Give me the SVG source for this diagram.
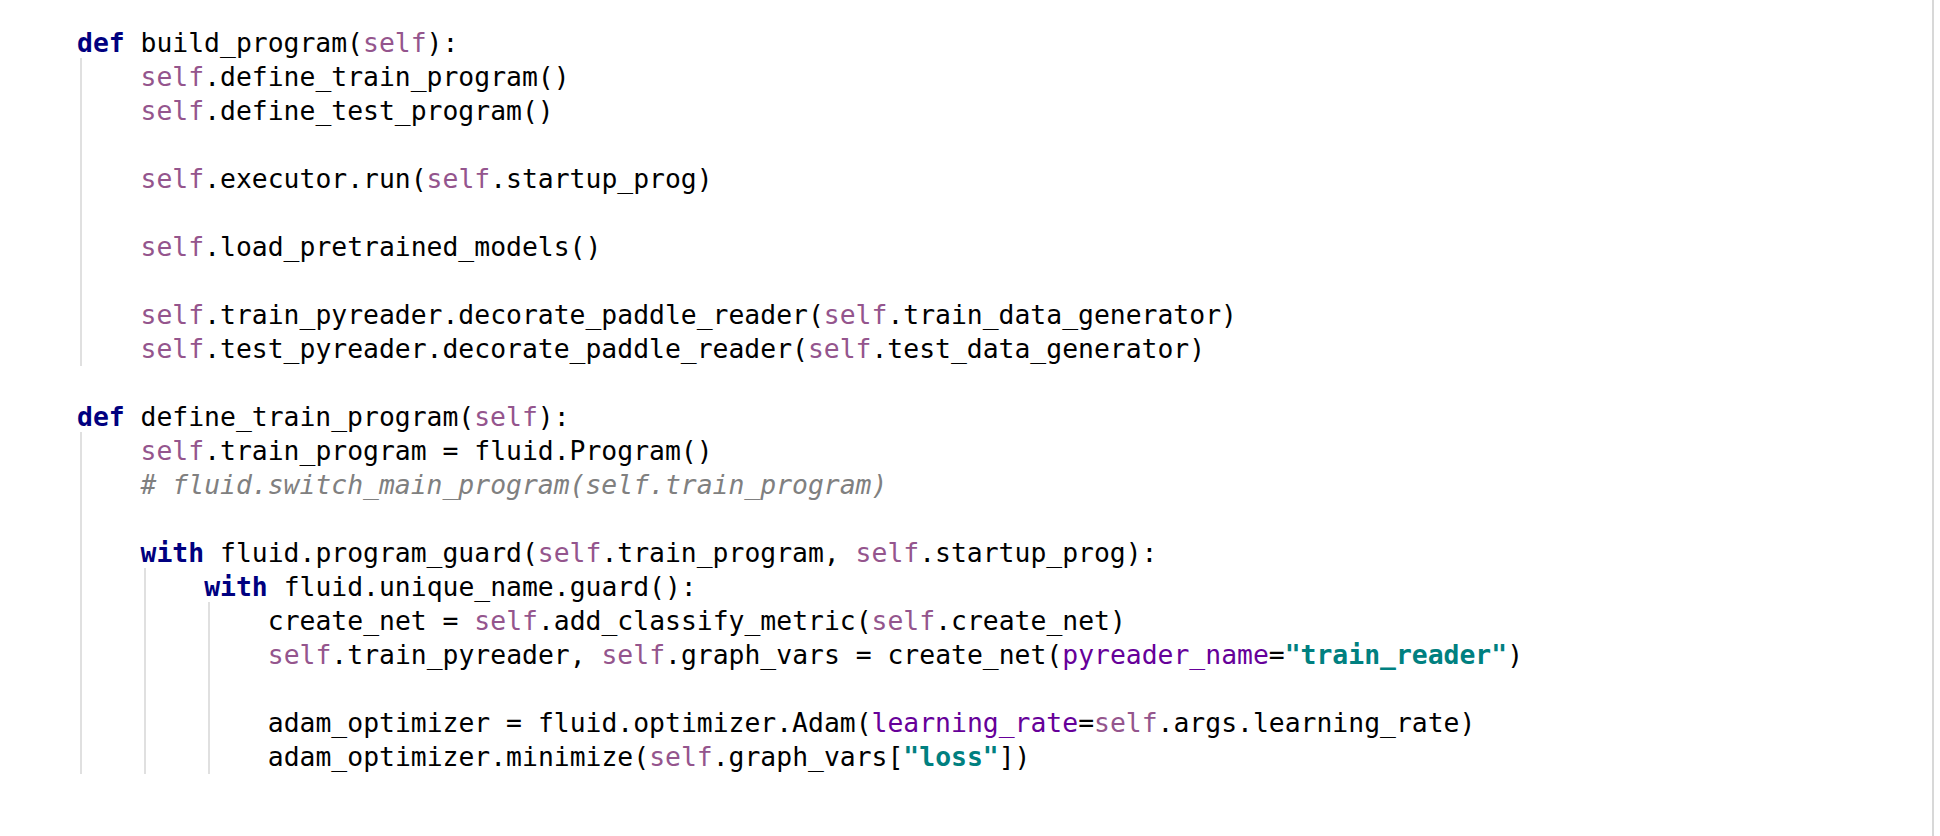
<svg xmlns="http://www.w3.org/2000/svg" width="1940" height="836" viewBox="0 0 1940 836">
<style>
text{font-family:"DejaVu Sans Mono","Liberation Mono",monospace;font-size:26.4px;fill:#000;white-space:pre}
.k{fill:#000080;font-weight:bold}
.s{fill:#94558d}
.p{fill:#660099}
.str{fill:#008080;font-weight:bold}
.c{fill:#808080;font-style:italic}
.g{stroke:#e0e0e0;stroke-width:2}
</style>
<rect width="1940" height="836" fill="#fff"/>
<g id="guides">
<line class="g" x1="81" y1="58" x2="81" y2="366"/>
<line class="g" x1="81" y1="432" x2="81" y2="774"/>
<line class="g" x1="145" y1="568" x2="145" y2="774"/>
<line class="g" x1="209" y1="602" x2="209" y2="774"/>
<line x1="1933" y1="0" x2="1933" y2="836" stroke="#d8d8d8" stroke-width="2"/>
</g>
<g id="code" xml:space="preserve">
<text x="77" y="51.5"><tspan class="k">def</tspan> build_program(<tspan class="s">self</tspan>):</text>
<text x="140.6" y="85.5"><tspan class="s">self</tspan>.define_train_program()</text>
<text x="140.6" y="119.5"><tspan class="s">self</tspan>.define_test_program()</text>
<text x="140.6" y="187.5"><tspan class="s">self</tspan>.executor.run(<tspan class="s">self</tspan>.startup_prog)</text>
<text x="140.6" y="255.5"><tspan class="s">self</tspan>.load_pretrained_models()</text>
<text x="140.6" y="323.5"><tspan class="s">self</tspan>.train_pyreader.decorate_paddle_reader(<tspan class="s">self</tspan>.train_data_generator)</text>
<text x="140.6" y="357.5"><tspan class="s">self</tspan>.test_pyreader.decorate_paddle_reader(<tspan class="s">self</tspan>.test_data_generator)</text>
<text x="77" y="425.5"><tspan class="k">def</tspan> define_train_program(<tspan class="s">self</tspan>):</text>
<text x="140.6" y="459.5"><tspan class="s">self</tspan>.train_program = fluid.Program()</text>
<text x="140.6" y="493.5" class="c"># fluid.switch_main_program(self.train_program)</text>
<text x="140.6" y="561.5"><tspan class="k">with</tspan> fluid.program_guard(<tspan class="s">self</tspan>.train_program, <tspan class="s">self</tspan>.startup_prog):</text>
<text x="204.2" y="595.5"><tspan class="k">with</tspan> fluid.unique_name.guard():</text>
<text x="267.8" y="629.5">create_net = <tspan class="s">self</tspan>.add_classify_metric(<tspan class="s">self</tspan>.create_net)</text>
<text x="267.8" y="663.5"><tspan class="s">self</tspan>.train_pyreader, <tspan class="s">self</tspan>.graph_vars = create_net(<tspan class="p">pyreader_name</tspan>=<tspan class="str">"train_reader"</tspan>)</text>
<text x="267.8" y="731.5">adam_optimizer = fluid.optimizer.Adam(<tspan class="p">learning_rate</tspan>=<tspan class="s">self</tspan>.args.learning_rate)</text>
<text x="267.8" y="765.5">adam_optimizer.minimize(<tspan class="s">self</tspan>.graph_vars[<tspan class="str">"loss"</tspan>])</text>
</g>
</svg>
